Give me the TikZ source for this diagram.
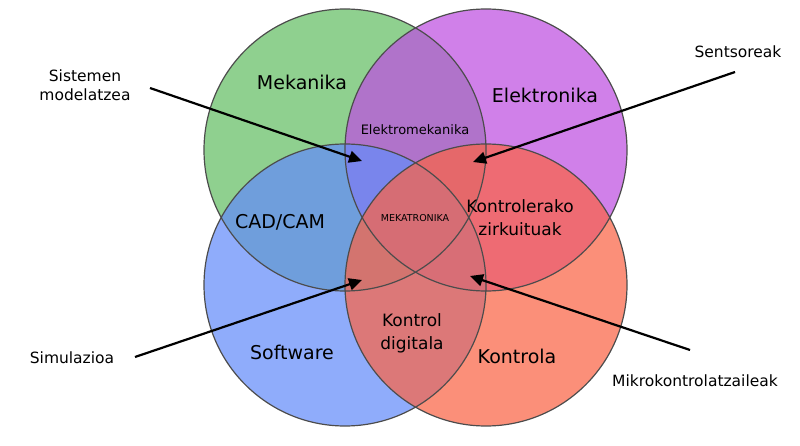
\documentclass[tikz,border=0pt]{standalone}
\usepackage{fontspec}
\setmainfont{DejaVu Sans}
\usetikzlibrary{arrows.meta}
\begin{document}
\begin{tikzpicture}[x=1pt,y=-1pt,
  circ/.style={fill opacity=0.72},
  lbl/.style={font=\fontsize{19}{22}\selectfont,align=center},
  sml/.style={font=\fontsize{15.5}{19}\selectfont,align=center},
  arr/.style={-{Triangle[length=13pt,width=12pt]},line width=2.2pt}]
\useasboundingbox (0,0) rectangle (800,446);
\fill[white] (0,0) rectangle (800,446);
\fill[circ,fill={rgb,255:red,100;green,190;blue,100}] (345,150) circle (141);
\fill[circ,fill={rgb,255:red,190;green,80;blue,225}] (486,150) circle (141);
\fill[circ,fill={rgb,255:red,100;green,140;blue,250}] (345,285) circle (141);
\fill[circ,fill={rgb,255:red,250;green,100;blue,70}] (486,285) circle (141);
\draw[draw=black!70,line width=1.2pt] (345,150) circle (141) (486,150) circle (141) (345,285) circle (141) (486,285) circle (141);
\node[lbl] (mek) at (302,82) {Mekanika};
\node[lbl] (ele) at (545,95) {Elektronika};
\node[font=\fontsize{13}{15}\selectfont] (em) at (415,130) {Elektromekanika};
\node[lbl] (cad) at (280,222) {CAD/CAM};
\node[font=\fontsize{9.5}{11}\selectfont] (mk) at (415,218) {MEKATRONIKA};
\node[lbl,font=\fontsize{17}{23}\selectfont] (kz) at (520,218) {Kontrolerako\\zirkuituak};
\node[lbl] (sw) at (292,352) {Software};
\node[lbl,font=\fontsize{17}{23}\selectfont] (kd) at (412,333) {Kontrol\\digitala};
\node[lbl] (ko) at (517,356) {Kontrola};
\node[sml] (sm) at (85,85) {Sistemen\\modelatzea};
\node[sml] (se) at (738,52) {Sentsoreak};
\node[sml] (si) at (72,358) {Simulazioa};
\node[sml] (mi) at (695,381) {Mikrokontrolatzaileak};
\coordinate (a1) at (362,161);
\coordinate (a2) at (473,162);
\coordinate (a3) at (362,280);
\coordinate (a4) at (470,276);
\draw[arr] (150,88) -- (a1);
\draw[arr] (735,72) -- (a2);
\draw[arr] (135,357) -- (a3);
\draw[arr] (690,350) -- (a4);
\end{tikzpicture}
\end{document}
